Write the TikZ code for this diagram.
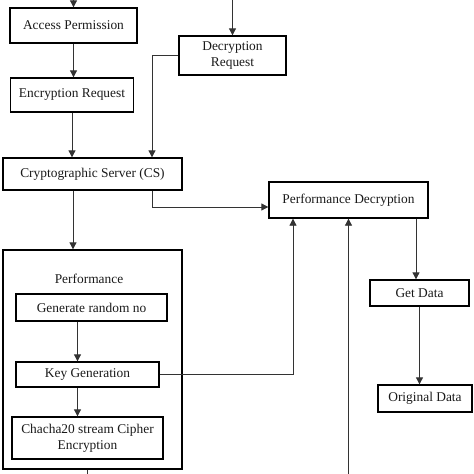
\documentclass[tikz,border=0pt]{standalone}
\usepackage{fontspec}
\setmainfont{Liberation Serif}
\usetikzlibrary{arrows.meta,calc}
\begin{document}
\begin{tikzpicture}[x=1pt,y=-1pt,
  box/.style={draw=black, line width=1.3pt, inner sep=1pt, align=center,
    font=\fontsize{13.4}{16}\selectfont, text=black!90},
  lbl/.style={inner sep=0pt, font=\fontsize{13.4}{16}\selectfont, text=black!90},
  arr/.style={draw=black!80, line width=0.8pt, -{Triangle[length=7pt,width=7pt]}},
  ln/.style={draw=black!80, line width=0.8pt}]
\useasboundingbox (0,0) rectangle (474,474);

% left column
\node[box, minimum width=127pt, minimum height=35pt] (ap) at (73.5,25.5) {Access Permission};
\node[box, minimum width=123pt, minimum height=34pt] (er) at (72,95) {Encryption Request};
\node[box, minimum width=107pt, minimum height=39pt] (dr) at (232.5,55.5) {Decryption\\Request};
\node[box, minimum width=179pt, minimum height=32pt] (cs) at (92.5,174) {Cryptographic Server (CS)};

% performance block
\node[box, minimum width=179pt, minimum height=219pt] (perf) at (92.5,359.5) {};
\node[lbl] (perflbl) at (89,279) {Performance};
\node[box, minimum width=151pt, minimum height=27pt] (gr) at (91.5,307.5) {Generate random no};
\node[box, minimum width=143pt, minimum height=25pt] (kg) at (87.5,374.5) {Key Generation};
\node[box, minimum width=151pt, minimum height=42pt] (cc) at (87.5,438) {Chacha20 stream Cipher\\Encryption};

% right column
\node[box, minimum width=159pt, minimum height=36pt] (pd) at (348.5,200) {Performance Decryption};
\node[box, minimum width=99pt, minimum height=26pt] (gd) at (419.5,293) {Get Data};
\node[box, minimum width=94pt, minimum height=27pt] (od) at (425,398.5) {Original Data};

% connector end points
\coordinate (inA) at (73.5,0);
\coordinate (inD) at (232.5,0);
\coordinate (csR) at (152,0);
\coordinate (colL) at (73,0);
\coordinate (kgx) at (77.5,0);
\coordinate (pdA) at (293,0);
\coordinate (pdG) at (416,0);
\coordinate (outP) at (87,474);
\coordinate (inB) at (348.5,474);

% connectors
\draw[arr] (inA) -- (ap.north);
\draw[arr] (inD) -- (dr.north);
\draw[arr] (ap.south) -- (ap.south |- er.north);
\draw[arr] (er.south) -- (er.south |- cs.north);
\draw[arr] (dr.west) -| (csR |- cs.north);
\draw[arr] (colL |- cs.south) -- (colL |- perf.north);
\draw[arr] (csR |- cs.south) |- ([yshift=-7pt]pd.west);
\draw[arr] (kgx |- gr.south) -- (kgx |- kg.north);
\draw[arr] (kgx |- kg.south) -- (kgx |- cc.north);
\draw[arr] (kg.east) -| (pdA |- pd.south);
\draw[arr] (inB) -- (pd.south);
\draw[arr] (pdG |- pd.south) -- (pdG |- gd.north);
\draw[arr] (gd.south) -- (gd.south |- od.north);
\draw[ln] (outP |- perf.south) -- (outP);
\end{tikzpicture}
\end{document}
